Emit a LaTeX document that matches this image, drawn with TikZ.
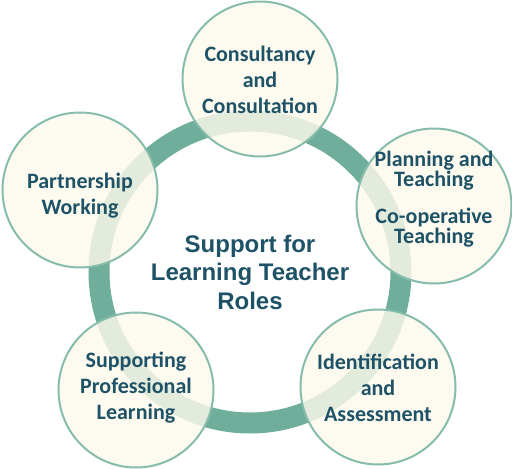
\documentclass[tikz,border=0pt]{standalone}
\usepackage{fontspec}
\setmainfont{Carlito}
\newfontfamily\centerfont{Liberation Sans}
\definecolor{ringc}{HTML}{6FAE9B}
\definecolor{rimc}{HTML}{86BCAB}
\definecolor{creamc}{HTML}{FDF9EC}
\definecolor{inkc}{HTML}{1E5266}
\tikzset{
  role/.style={circle, minimum size=155pt, inner sep=0pt, fill=creamc, fill opacity=0.82,
    draw=rimc, draw opacity=1, line width=2pt},
  lbl/.style={text=inkc, font=\fontsize{22}{26}\selectfont\bfseries, align=center, inner sep=0pt},
  title/.style={text=inkc, font=\centerfont\fontsize{24}{28.5}\selectfont\bfseries, align=center, inner sep=0pt}
}
\begin{document}
\begin{tikzpicture}[x=1pt,y=-1pt]
\useasboundingbox (0,0) rectangle (512,469);
\node[draw=ringc, line width=21pt, circle, minimum size=302pt, inner sep=0pt] (ring) at (250,272) {};
\node[role] (c1) at (260,79) {};
\node[role] (c2) at (434,206) {};
\node[role] (c3) at (80,190) {};
\node[role] (c4) at (136,390) {};
\node[role] (c5) at (378,387) {};
\node[lbl] (t1) at (260,80) {Consultancy\\and\\Consultation};
\node[lbl, font=\fontsize{22}{18}\selectfont\bfseries] (t2) at (434,199) {Planning and\\Teaching\\[17pt]Co-operative\\Teaching};
\node[lbl] (t3) at (80,196) {Partnership\\Working};
\node[lbl] (t4) at (136,388) {Supporting\\Professional\\Learning};
\node[lbl] (t5) at (378,388) {Identification\\and\\Assessment};
\node[title] (ct) at (250,272) {Support for\\Learning Teacher\\Roles};
\end{tikzpicture}
\end{document}
